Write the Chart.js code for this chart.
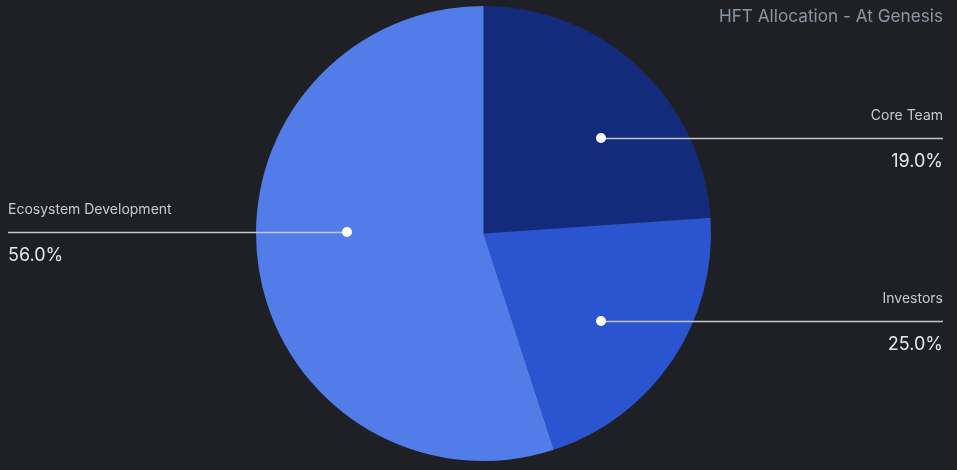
<!DOCTYPE html>
<html>
<head>
<meta charset="utf-8">
<script src="https://cdn.jsdelivr.net/npm/chart.js@4"></script>
<style>
  html, body { margin: 0; padding: 0; background: #1f2025; }
  #wrap { width: 957px; height: 470px; position: relative; }
</style>
</head>
<body>
<div id="wrap"><canvas id="chart"></canvas></div>
<script>
// Data
const categories = ['Core Team', 'Investors', 'Ecosystem Development'];
const shares = [23.9, 21.1, 55.0];          // arc sizes as drawn
const shareLabels = ['19.0%', '25.0%', '56.0%']; // label text as printed
const sliceColors = ['#132b7b', '#2b55d0', '#527ce8'];
const chartTitle = 'HFT Allocation - At Genesis';

// Label anchors relative to pie centre, and which side the label goes
const anchors = [
  { dx: 117.5, dy: -95.5, side: 'right' },
  { dx: 117.5, dy: 87.5, side: 'right' },
  { dx: -136.5, dy: -1.5, side: 'left' }
];

const labelPlugin = {
  id: 'sideLabels',
  afterDraw(chart) {
    const ctx = chart.ctx;
    const arc = chart.getDatasetMeta(0).data[0];
    const cx = arc.x, cy = arc.y;
    const W = chart.width;

    ctx.save();
    // title
    ctx.font = '400 17.2px Inter, "Noto Sans", sans-serif';
    ctx.fillStyle = '#8e96a4';
    ctx.textAlign = 'right';
    ctx.textBaseline = 'middle';
    ctx.fillText(chartTitle, W - 14, 17);

    categories.forEach(function(name, i) {
      const a = anchors[i];
      const px = cx + a.dx, py = cy + a.dy;
      const edge = a.side === 'right' ? W - 14 : 8;

      ctx.strokeStyle = '#c4c6ca';
      ctx.lineWidth = 1.3;
      ctx.beginPath();
      ctx.moveTo(px, py + 0.5);
      ctx.lineTo(edge, py + 0.5);
      ctx.stroke();

      ctx.fillStyle = '#ffffff';
      ctx.beginPath();
      ctx.arc(px, py, 5, 0, Math.PI * 2);
      ctx.fill();

      ctx.textAlign = a.side === 'right' ? 'right' : 'left';
      ctx.font = '400 14px Inter, "Noto Sans", sans-serif';
      ctx.fillStyle = '#c9cacd';
      ctx.fillText(name, edge, py - 22);
      ctx.font = '400 18px Inter, "Noto Sans", sans-serif';
      ctx.fillStyle = '#e6e7e9';
      ctx.fillText(shareLabels[i], edge, py + 23.5);
    });
    ctx.restore();
  }
};

new Chart(document.getElementById('chart'), {
  type: 'pie',
  data: {
    labels: categories,
    datasets: [{
      data: shares,
      backgroundColor: sliceColors,
      borderWidth: 0
    }]
  },
  options: {
    responsive: true,
    maintainAspectRatio: false,
    animation: false,
    layout: { padding: { top: 6, bottom: 9, left: 10, right: 0 } },
    plugins: {
      legend: { display: false },
      tooltip: { enabled: false }
    }
  },
  plugins: [labelPlugin]
});
</script>
</body>
</html>
